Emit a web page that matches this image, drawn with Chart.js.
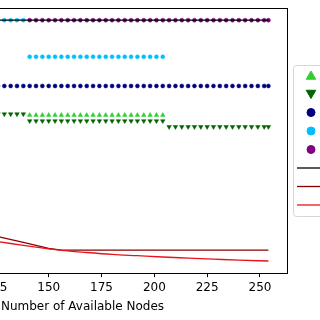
<!DOCTYPE html>
<html>
<head>
<meta charset="utf-8">
<script src="https://cdn.jsdelivr.net/npm/chart.js@4/dist/chart.umd.min.js"></script>
<style>
  html, body { margin: 0; padding: 0; background: #fff; overflow: hidden; width: 320px; height: 320px; }
  #wrap { position: absolute; left: -140px; top: 0; width: 460px; height: 320px; }
</style>
</head>
<body>
<div id="wrap"><canvas id="nodesChart" width="460" height="320"></canvas></div>
<script>
// x positions of the markers (number of available nodes)
const nodes = [78, 81, 84, 87, 90, 93, 96, 99, 102, 105, 108, 111, 114, 117, 120, 123, 126, 129, 132, 135, 138,
    141, 144, 147, 150, 153, 156, 159, 162, 165, 168, 171, 174, 177, 180, 183, 186, 189, 192, 195, 198, 201, 204,
    207, 210, 213, 216, 219, 222, 225, 228, 231, 234, 237, 240, 243, 246, 249, 252, 254];

const n = null;
// marker series, one value per node (null = not plotted)
const limeUp = [n, n, n, n, n, n, n, n, n, n, n, n, n, n, n, n, n, n, n, n, n,
    59.6, 59.6, 59.6, 59.6, 59.6, 59.6, 59.6, 59.6, 59.6, 59.6, 59.6, 59.6, 59.6, 59.6, 59.6, 59.6, 59.6, 59.6, 59.6, 59.6, 59.6, 59.6,
    n, n, n, n, n, n, n, n, n, n, n, n, n, n, n, n, n];
const darkGreenDown = [60.0, 60.0, 60.0, 60.0, 60.0, 60.0, 60.0, 60.0, 60.0, 60.0, 60.0, 60.0, 60.0, 60.0, 60.0, 60.0, 60.0, 60.0, 60.0, 60.0, 60.0,
    57.4, 57.4, 57.4, 57.4, 57.4, 57.4, 57.4, 57.4, 57.4, 57.4, 57.4, 57.4, 57.4, 57.4, 57.4, 57.4, 57.4, 57.4, 57.4, 57.4, 57.4, 57.4,
    55.2, 55.2, 55.2, 55.2, 55.2, 55.2, 55.2, 55.2, 55.2, 55.2, 55.2, 55.2, 55.2, 55.2, 55.2, 55.2, 55.2];
const navyDots = [70.6, 70.6, 70.6, 70.6, 70.6, 70.6, 70.6, 70.6, 70.6, 70.6, 70.6, 70.6, 70.6, 70.6, 70.6, 70.6, 70.6, 70.6, 70.6, 70.6, 70.6,
    70.6, 70.6, 70.6, 70.6, 70.6, 70.6, 70.6, 70.6, 70.6, 70.6, 70.6, 70.6, 70.6, 70.6, 70.6, 70.6, 70.6, 70.6, 70.6, 70.6, 70.6, 70.6,
    70.6, 70.6, 70.6, 70.6, 70.6, 70.6, 70.6, 70.6, 70.6, 70.6, 70.6, 70.6, 70.6, 70.6, 70.6, 70.6, 70.6];
const cyanDots = [95.4, 95.4, 95.4, 95.4, 95.4, 95.4, 95.4, 95.4, 95.4, 95.4, 95.4, 95.4, 95.4, 95.4, 95.4, 95.4, 95.4, 95.4, 95.4, 95.4, 95.4,
    81.6, 81.6, 81.6, 81.6, 81.6, 81.6, 81.6, 81.6, 81.6, 81.6, 81.6, 81.6, 81.6, 81.6, 81.6, 81.6, 81.6, 81.6, 81.6, 81.6, 81.6, 81.6,
    n, n, n, n, n, n, n, n, n, n, n, n, n, n, n, n, n];
const purpleDots = [n, n, n, n, n, n, n, n, n, n, n, n, n, n, n, n, n, n, n, n, n,
    95.4, 95.4, 95.4, 95.4, 95.4, 95.4, 95.4, 95.4, 95.4, 95.4, 95.4, 95.4, 95.4, 95.4, 95.4, 95.4, 95.4, 95.4, 95.4, 95.4, 95.4, 95.4,
    95.4, 95.4, 95.4, 95.4, 95.4, 95.4, 95.4, 95.4, 95.4, 95.4, 95.4, 95.4, 95.4, 95.4, 95.4, 95.4, 95.4];

// line series
const curveNodes = [78, 90, 102, 114, 126, 138, 150, 156, 168, 180, 192, 204, 216, 228, 240, 254];
const blackLine = [95.4, 95.4, 95.4, 95.4, 95.4, 95.4, 95.4, 95.4, 95.4, 95.4, 95.4, 95.4, 95.4, 95.4, 95.4, 95.4];
const darkRedLine = [22.5, 20.3, 18.1, 15.9, 13.8, 11.6, 9.4, 8.7, 8.7, 8.7, 8.7, 8.7, 8.7, 8.7, 8.7, 8.7];
const redLine = [19.5, 17.0, 14.9, 13.2, 11.9, 10.5, 9.2, 8.6, 7.8, 7.1, 6.6, 6.1, 5.7, 5.3, 4.9, 4.6];

const xTicks = [75, 100, 125, 150, 175, 200, 225, 250];

function pairs(xs, ys) {
    return xs.map((x, i) => ({ x: x, y: ys[i] }));
}

function markers(label, ys, color, style, rotation, radius) {
    return {
        label: label,
        data: pairs(nodes, ys),
        showLine: false,
        pointStyle: style,
        rotation: rotation,
        pointRadius: radius,
        pointBorderWidth: 0.5,
        backgroundColor: color,
        borderColor: color
    };
}

function curve(label, ys, color, monotone) {
    return {
        label: label,
        data: pairs(curveNodes, ys),
        showLine: true,
        pointRadius: 0,
        borderWidth: 1.3,
        borderColor: color,
        backgroundColor: color,
        cubicInterpolationMode: monotone ? 'monotone' : 'default',
        legendLine: true
    };
}

const datasets = [
    markers('Up', limeUp, '#32cd32', 'triangle', 0, 2.6),
    markers('Down', darkGreenDown, '#006400', 'triangle', 180, 2.6),
    markers('Navy', navyDots, '#000080', 'circle', 0, 2),
    markers('Cyan', cyanDots, '#00bfff', 'circle', 0, 2),
    markers('Purple', purpleDots, '#800080', 'circle', 0, 2),
    curve('Black', blackLine, '#000000', false),
    curve('Dark red', darkRedLine, '#8b0000', false),
    curve('Red', redLine, '#e8141c', true)
];
// matplotlib draws later series on top
datasets.forEach((d, i) => { d.order = datasets.length - i; });

// frame around the plot plus the boxed legend on the right
const framePlugin = {
    id: 'frameAndLegend',
    afterDraw(chart) {
        const ctx = chart.ctx;
        const a = chart.chartArea;
        ctx.save();
        ctx.strokeStyle = '#000';
        ctx.lineWidth = 1;
        ctx.strokeRect(Math.round(a.left) + 0.5, Math.round(a.top) + 0.5,
            Math.round(a.right - a.left), Math.round(a.bottom - a.top));

        const bx = a.right + 6;
        const by = 65;
        const rowH = 18.5;
        ctx.fillStyle = 'rgba(255,255,255,0.85)';
        ctx.strokeStyle = '#d6d6d6';
        ctx.beginPath();
        ctx.roundRect(bx + 0.5, by + 0.5, 120, 151, 3);
        ctx.fill();
        ctx.stroke();

        datasets.forEach((d, i) => {
            const cy = by + 10.5 + i * rowH;
            const cx = bx + 18;
            if (d.legendLine) {
                ctx.strokeStyle = d.borderColor;
                ctx.lineWidth = 1.3;
                ctx.beginPath();
                ctx.moveTo(bx + 4, cy);
                ctx.lineTo(bx + 32, cy);
                ctx.stroke();
            } else {
                const st = {
                    pointStyle: d.pointStyle,
                    rotation: d.rotation,
                    radius: d.pointStyle === 'triangle' ? 5.5 : 4,
                    borderWidth: 0.5
                };
                ctx.fillStyle = d.backgroundColor;
                ctx.strokeStyle = d.borderColor;
                Chart.helpers.drawPoint(ctx, st, cx, cy + (d.pointStyle === 'triangle' ? (d.rotation ? -1 : 1) : 0));
            }
            ctx.fillStyle = '#000';
            ctx.font = '12px "DejaVu Sans"';
            ctx.textBaseline = 'middle';
            ctx.fillText(d.label, bx + 40, cy);
        });
        ctx.restore();
    }
};

new Chart(document.getElementById('nodesChart').getContext('2d'), {
    type: 'scatter',
    data: { datasets: datasets },
    options: {
        responsive: false,
        animation: false,
        layout: { padding: { left: 18, right: 33, top: 8, bottom: 6 } },
        plugins: {
            legend: { display: false },
            tooltip: { enabled: false }
        },
        scales: {
            x: {
                type: 'linear',
                min: 69.2,
                max: 262.8,
                afterBuildTicks: (axis) => { axis.ticks = xTicks.map(v => ({ value: v })); },
                grid: { drawOnChartArea: false, drawTicks: true, tickLength: 4, color: '#000' },
                border: { display: true, color: '#000', width: 1 },
                ticks: {
                    autoSkip: false,
                    maxRotation: 0,
                    padding: 3,
                    color: '#000',
                    font: { family: '"DejaVu Sans"', size: 12 }
                },
                title: {
                    display: true,
                    text: 'Number of Available Nodes',
                    color: '#000',
                    font: { family: '"DejaVu Sans"', size: 12 },
                    padding: { top: 2, bottom: 0 }
                }
            },
            y: {
                display: false,
                min: 0,
                max: 100
            }
        }
    },
    plugins: [framePlugin]
});
</script>
</body>
</html>
